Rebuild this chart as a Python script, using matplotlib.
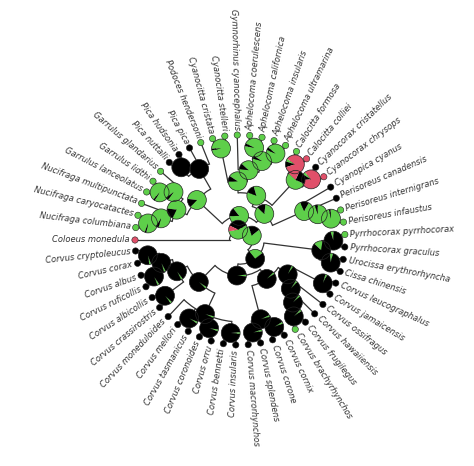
import numpy as np
import matplotlib
matplotlib.use("Agg")
import matplotlib.pyplot as plt
from matplotlib.patches import Wedge, Arc, Circle

GREEN = "#5ecf4a"
BLACK = "#000000"
RED = "#e0506a"
state_colors = {"g": GREEN, "b": BLACK, "r": RED}

# tip labels, clockwise from the left
tips = [
    "Coloeus monedula", "Nucifraga columbiana", "Nucifraga caryocatactes", "Nucifraga multipunctata",
    "Garrulus lanceolatus", "Garrulus lidthi", "Garrulus glandarius", "Pica nuttalli", "Pica hudsonia",
    "Pica pica", "Podoces hendersoni", "Cyanocitta cristata", "Cyanocitta stelleri",
    "Gymnorhinus cyanocephalus", "Aphelocoma coerulescens", "Aphelocoma californica",
    "Aphelocoma insularis", "Aphelocoma ultramarina", "Calocitta formosa", "Calocitta colliei",
    "Cyanocorax cristatellus", "Cyanocorax chrysops", "Cyanopica cyanus", "Perisoreus canadensis",
    "Perisoreus internigrans", "Perisoreus infaustus", "Pyrrhocorax pyrrhocorax", "Pyrrhocorax graculus",
    "Urocissa erythrorhyncha", "Cissa chinensis", "Corvus leucographalus", "Corvus jamaicensis",
    "Corvus ossifragus", "Corvus hawaiiensis", "Corvus frugilegus", "Corvus brachyrhynchos",
    "Corvus cornix", "Corvus corone", "Corvus splendens", "Corvus macrorhynchos", "Corvus insularis",
    "Corvus bennetti", "Corvus orru", "Corvus coronoides", "Corvus tasmanicus", "Corvus mellori",
    "Corvus moneduloides", "Corvus crassirostris", "Corvus albicollis", "Corvus ruficollis",
    "Corvus albus", "Corvus corax", "Corvus cryptoleucus",
]
tip_states = (
    "r" + "gggggg" + "bbbg" + "gggggggg" + "rbrbb" + "ggg" + "bbbb"
    + "bbbb" + "g" + "bbbbbbbbbbbbbbbbbb"
)

# internal node pies: (green, black, red)
pies = {
    "root": (0.55, 0.35, 0.10), "core": (0.80, 0.20, 0.0), "jays": (0.85, 0.15, 0.0),
    "nucgar": (0.85, 0.15, 0.0), "nuc": (0.95, 0.05, 0.0), "nuc2": (0.97, 0.03, 0.0),
    "gar": (0.95, 0.05, 0.0), "gar2": (0.97, 0.03, 0.0),
    "pica": (0.0, 1.0, 0.0), "pica2": (0.0, 1.0, 0.0), "picapod": (0.80, 0.20, 0.0),
    "nwold": (0.85, 0.15, 0.0), "nwall": (0.85, 0.15, 0.0), "nw": (0.9, 0.1, 0.0),
    "cyc": (0.97, 0.03, 0.0), "gymaph": (0.9, 0.1, 0.0), "aph": (0.95, 0.05, 0.0),
    "aph1": (0.95, 0.05, 0.0), "aph2": (0.95, 0.05, 0.0),
    "calcya": (0.55, 0.25, 0.20), "cal": (0.05, 0.10, 0.85), "cya": (0.05, 0.10, 0.85),
    "old": (0.85, 0.15, 0.0), "per": (0.95, 0.05, 0.0), "per2": (0.97, 0.03, 0.0),
    "pyrcor": (0.25, 0.75, 0.0), "pyruro": (0.15, 0.85, 0.0), "pyr": (0.05, 0.95, 0.0),
    "uro": (0.05, 0.95, 0.0),
}

tree = ("root", [0, ("core", [
    ("jays", [
        ("nucgar", [
            ("picapod", [
                ("nuc", [("nuc2", [1, 2]), 3]),
                ("gar", [("gar2", [4, 5]), 6]),
            ]),
            ("pica", [("pica2", [7, 8]), 9, 10]),
        ]),
        ("nwold", [
            ("nwall", [
                ("nw", [("cyc", [11, 12]), ("gymaph", [13, ("aph", [("aph1", [14, 15]), ("aph2", [16, 17])])])]),
                ("calcya", [("cal", [18, 19]), ("cya", [20, 21])]),
            ]),
            ("old", [22, ("per", [23, ("per2", [24, 25])])]),
        ]),
    ]),
    ("pyrcor", [
        ("pyruro", [("pyr", [26, 27]), ("uro", [28, 29])]),
        ("corvus", [
            ("cv1", [("cv1a", [("cv1b", [30, 31]), ("cv1c", [32, ("cv1d", [33, ("cv1e", [34, 35])])])]),
                     ("cv2", [("cv2a", [36, 37]), ("cv2b", [38, 39])])]),
            ("cv3", [("cv3a", [("cv3b", [40, 41]), ("cv3c", [42, 43]), ("cv3d", [44, 45]), 46]),
                     ("cv4", [("cv4a", [47, 48]), ("cv4b", [("cv4c", [49, 50]), ("cv4d", [51, 52])])])]),
        ]),
    ]),
])])

for key in ["corvus", "cv1", "cv1a", "cv1b", "cv1c", "cv1d", "cv1e", "cv2", "cv2a", "cv2b",
            "cv3", "cv3a", "cv3b", "cv3c", "cv3d", "cv4", "cv4a", "cv4b", "cv4c", "cv4d"]:
    pies[key] = (0.03, 0.97, 0.0)

tip_angles = np.linspace(180, -174, len(tips))


def height(node):
    if isinstance(node, int):
        return 0
    return 1 + max(height(c) for c in node[1])


def node_radius(node):
    if isinstance(node, int):
        return 1.0
    return max(0.1, 1.0 - 0.11 * height(node))


def node_angle(node):
    if isinstance(node, int):
        return tip_angles[node]
    return np.mean([node_angle(c) for c in node[1]])


fig = plt.figure(figsize=(4.74, 4.66), dpi=100)
ax = fig.add_axes([0, 0, 1, 1])
# 1 unit ~ 105 px, centre near (240, 240) px
ax.set_xlim(-240 / 105, 234 / 105)
ax.set_ylim(-226 / 105, 240 / 105)
ax.set_aspect("equal")
ax.axis("off")

pie_nodes = []


def draw(node):
    r = node_radius(node)
    a = node_angle(node)
    child_angles = [node_angle(c) for c in node[1]]
    lo, hi = min(child_angles), max(child_angles)
    ax.add_patch(Arc((0, 0), 2 * r, 2 * r, theta1=lo, theta2=hi, color="#333333", lw=0.9, zorder=1))
    for c in node[1]:
        ca = np.radians(node_angle(c))
        cr = node_radius(c)
        ax.plot([r * np.cos(ca), cr * np.cos(ca)], [r * np.sin(ca), cr * np.sin(ca)],
                color="#333333", lw=0.9, zorder=1)
        if not isinstance(c, int):
            draw(c)
    pie_nodes.append((node[0], r, a))


draw(tree)

for key, r, a in pie_nodes:
    x, y = r * np.cos(np.radians(a)), r * np.sin(np.radians(a))
    start = a + 90
    for frac, col in zip(pies[key], [GREEN, BLACK, RED]):
        if frac <= 0:
            continue
        ax.add_patch(Wedge((x, y), 0.09, start, start + 360 * frac, facecolor=col,
                           edgecolor="none", zorder=3))
        start += 360 * frac
    ax.add_patch(Circle((x, y), 0.09, fill=False, edgecolor="#222222", lw=0.5, zorder=4))

for i, name in enumerate(tips):
    a = tip_angles[i]
    ca, sa = np.cos(np.radians(a)), np.sin(np.radians(a))
    ax.add_patch(Circle((ca, sa), 0.03, facecolor=state_colors[tip_states[i]],
                        edgecolor="#222222", lw=0.4, zorder=4))
    if ca >= 0:
        rot, ha = a, "left"
    else:
        rot, ha = a - 180, "right"
    ax.text(1.05 * ca, 1.05 * sa, name, rotation=rot, ha=ha, va="center",
            rotation_mode="anchor", fontsize=6, style="italic", color="#333333")

fig.savefig("out.png", dpi=100)
